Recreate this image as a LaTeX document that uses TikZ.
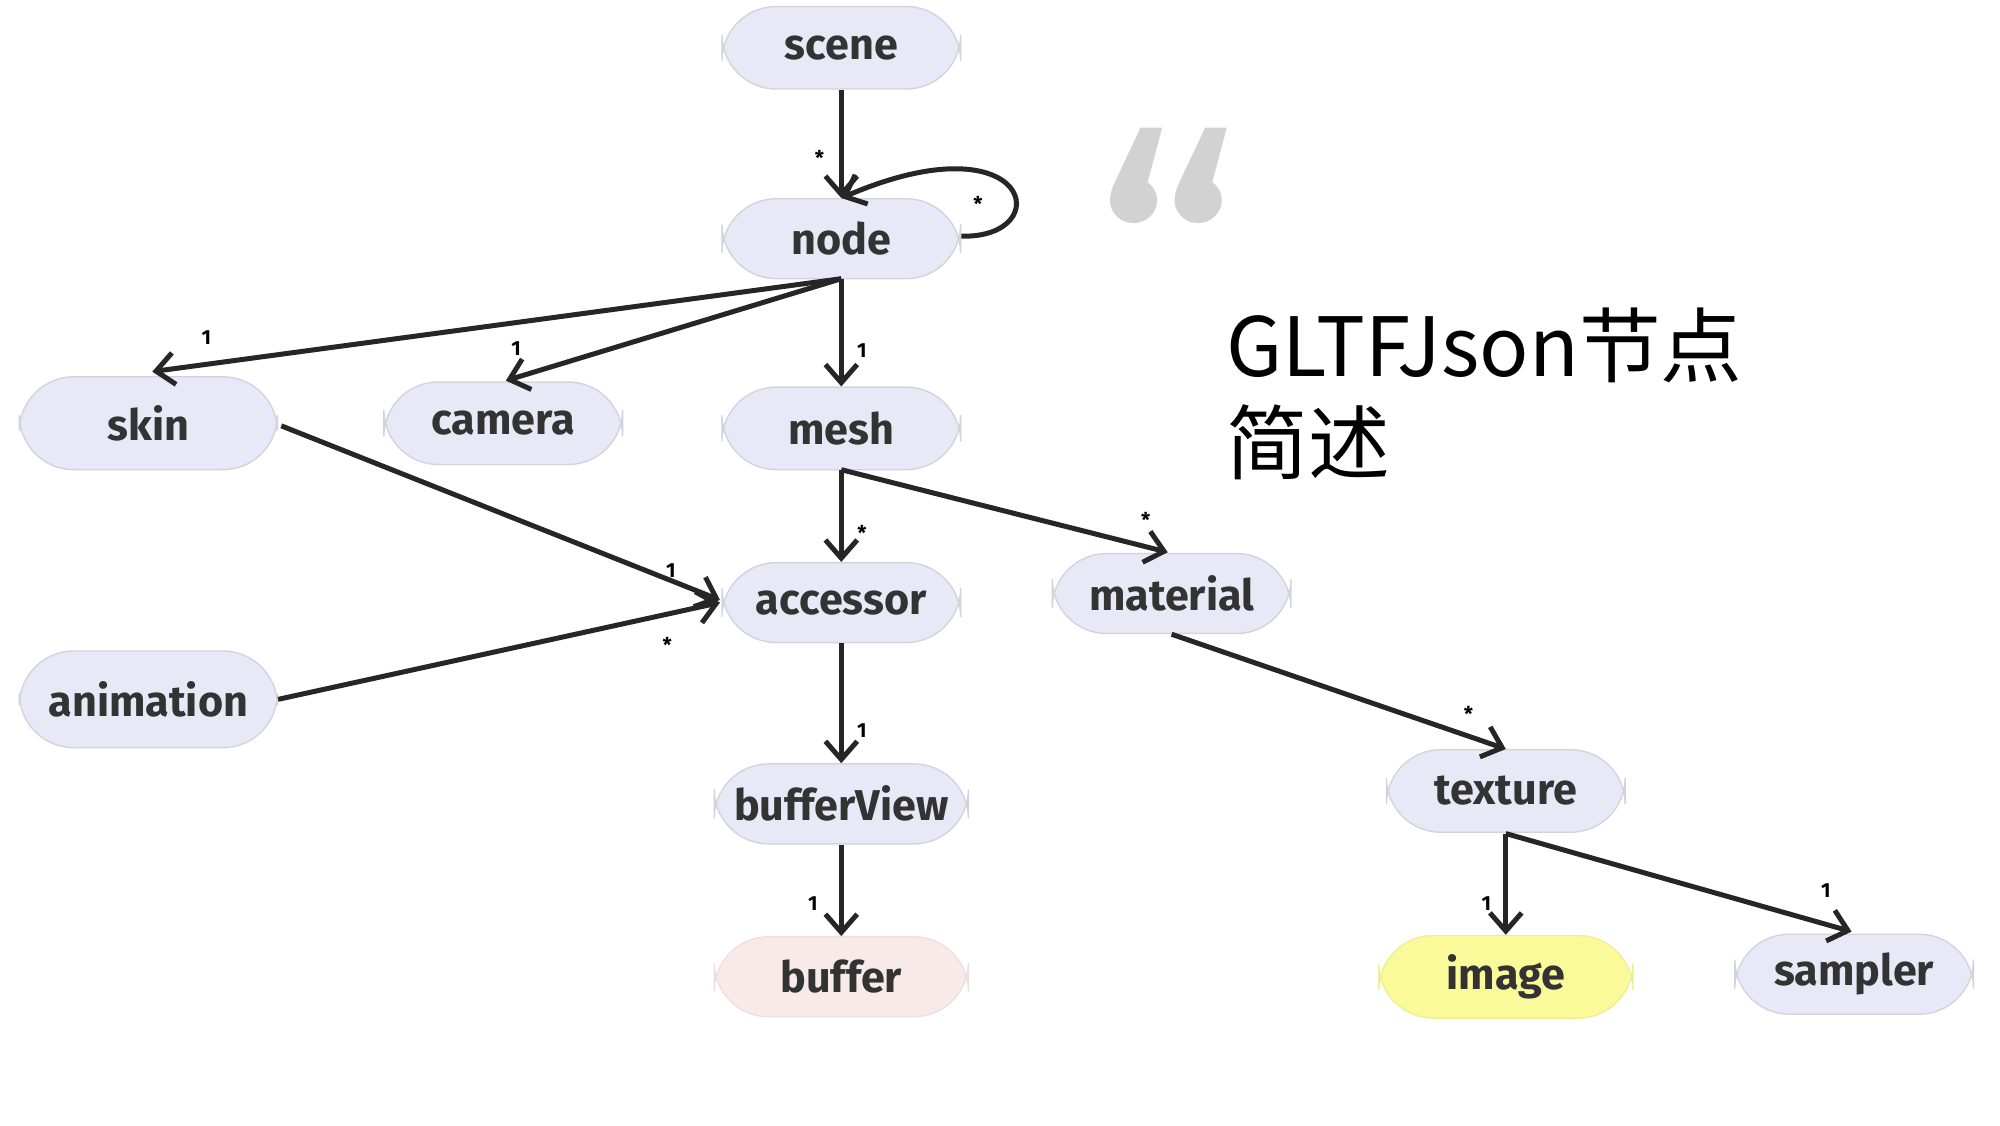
\documentclass[tikz,border=0pt]{standalone}
\usepackage{fontspec}
\setmainfont{Fira Sans}
\newfontfamily\cjk{Noto Sans CJK SC}
\usetikzlibrary{arrows.meta}
\definecolor{lav}{HTML}{E8E8F6}
\definecolor{pinkb}{HTML}{F9EAEA}
\definecolor{yelb}{HTML}{FAFA9A}
\begin{document}
\begin{tikzpicture}[x=0.01cm,y=-0.01cm,
  box/.style={rounded corners=30\pgflinewidth, fill=lav, draw=lav!80!gray, line width=0.3pt, minimum width=185*0.01cm, minimum height=64*0.01cm, inner sep=0pt, font=\fontsize{9.5}{11}\selectfont\bfseries, text=black!80},
  conn/.style={line width=1.1pt, -{Straight Barb[length=4pt,width=7pt]}, black!85},
  lab/.style={font=\fontsize{4.5}{5}\selectfont\bfseries, inner sep=0pt}]
\useasboundingbox (0,0) rectangle (1550,872);
\node[box] (scene) at (652,37) {scene};
\node[box, minimum height=62*0.01cm] (node) at (652,185) {node};
\node[box, minimum width=200*0.01cm, minimum height=72*0.01cm] (skin) at (115,328) {skin};
\node[box] (camera) at (390,328) {camera};
\node[box] (mesh) at (652,332) {mesh};
\node[box, minimum height=62*0.01cm] (accessor) at (652,467) {accessor};
\node[box, minimum height=62*0.01cm] (material) at (908,460) {material};
\node[box, minimum width=200*0.01cm, minimum height=75*0.01cm] (animation) at (115,542) {animation};
\node[box, minimum width=197*0.01cm, minimum height=62*0.01cm] (bufferView) at (652,623) {bufferView};
\node[box] (texture) at (1167,613) {texture};
\node[box, minimum width=197*0.01cm, minimum height=62*0.01cm, fill=pinkb, draw=pinkb!90!gray] (buffer) at (652,757) {buffer};
\node[box, minimum width=197*0.01cm, fill=yelb, draw=yelb!90!gray] (image) at (1167,757) {image};
\node[box, minimum height=62*0.01cm] (sampler) at (1437,755) {sampler};

\draw[conn] (scene.south) -- (node.north);
\node[lab] (l1) at (635,122) {*};
\draw[conn] (node.east) ++(0,-2) .. controls (820,185) and (800,90) .. (node.north);
\node[lab] (l2) at (758,158) {*};
\coordinate (nb) at (652,216);
\draw[conn] (nb) -- (118,288) coordinate (skintip);
\node[lab] (l3) at (160,262) {1};
\draw[conn] (nb) -- (392,295) coordinate (camtip);
\node[lab] (l4) at (400,270) {1};
\draw[conn] (nb) -- (mesh.north);
\node[lab] (l5) at (668,272) {1};
\coordinate (mb) at (652,364);
\draw[conn] (mb) -- (accessor.north);
\node[lab] (l6) at (668,413) {*};
\draw[conn] (mb) -- (905,428) coordinate (mattip);
\node[lab] (l7) at (888,403) {*};
\draw[conn] (218,330) -- (558,465) coordinate (acc1);
\node[lab] (l8) at (520,442) {1};
\draw[conn] (animation.east) -- (558,467);
\node[lab] (l9) at (517,500) {*};
\draw[conn] (accessor.south) -- (bufferView.north);
\node[lab] (l10) at (668,566) {1};
\draw[conn] (bufferView.south) -- (buffer.north);
\node[lab] (l11) at (630,700) {1};
\draw[conn] (material.south) -- (texture.north);
\node[lab] (l12) at (1138,553) {*};
\coordinate (tb) at (1167,646);
\draw[conn] (tb) -- (image.north);
\node[lab] (l13) at (1152,700) {1};
\draw[conn] (tb) -- (1435,722) coordinate (samptip);
\node[lab] (l14) at (1415,690) {1};

\node[text=gray!35, font=\fontsize{80}{80}\selectfont] (q) at (905,205) {“};
\node[anchor=west, font=\cjk\fontsize{18}{22}\selectfont, text=black, inner sep=0pt] (t1) at (950,268) {GLTFJson节点};
\node[anchor=west, font=\cjk\fontsize{18}{22}\selectfont, text=black, inner sep=0pt] (t2) at (950,343) {简述};
\end{tikzpicture}
\end{document}
